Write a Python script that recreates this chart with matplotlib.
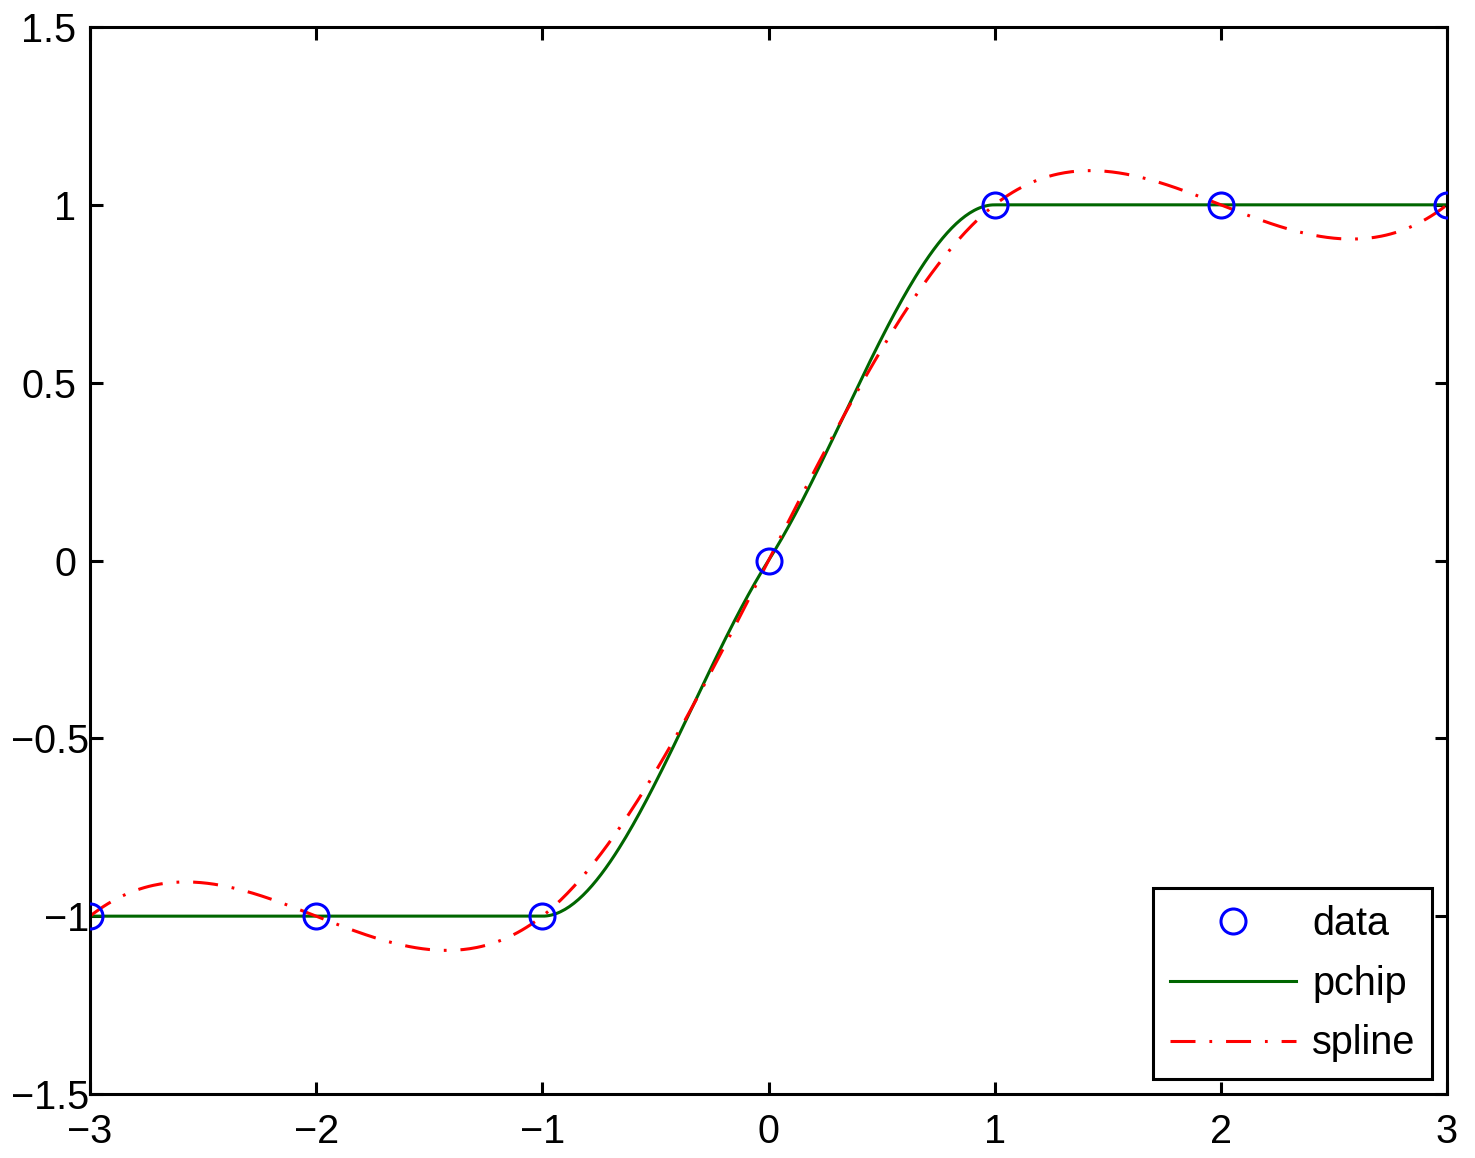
import numpy as np
import matplotlib
matplotlib.use("Agg")
import matplotlib.pyplot as plt
import matplotlib.transforms as mtransforms

plt.rcParams['font.family'] = ['Liberation Sans', 'DejaVu Sans']
plt.rcParams['lines.scale_dashes'] = False
plt.rcParams['axes.unicode_minus'] = True

# data
x_data = [-3, -2, -1, 0, 1, 2, 3]
y_data = [-1, -1, -1, 0, 1, 1, 1]
x_ticks = [-3, -2, -1, 0, 1, 2, 3]
y_ticks = [-1.5, -1, -0.5, 0, 0.5, 1, 1.5]
labels = ["data", "pchip", "spline"]


def pchip_slopes(x, y):
    h = np.diff(x)
    d = np.diff(y) / h
    n = len(x)
    s = np.zeros(n)
    for k in range(1, n - 1):
        if d[k - 1] * d[k] > 0:
            w1 = 2 * h[k] + h[k - 1]
            w2 = h[k] + 2 * h[k - 1]
            s[k] = (w1 + w2) / (w1 / d[k - 1] + w2 / d[k])

    def end(h0, h1, d0, d1):
        v = ((2 * h0 + h1) * d0 - h0 * d1) / (h0 + h1)
        if np.sign(v) != np.sign(d0):
            v = 0.0
        elif np.sign(d0) != np.sign(d1) and abs(v) > abs(3 * d0):
            v = 3 * d0
        return v
    s[0] = end(h[0], h[1], d[0], d[1])
    s[-1] = end(h[-1], h[-2], d[-1], d[-2])
    return s


def hermite_eval(x, y, s, t):
    idx = np.clip(np.searchsorted(x, t, side='right') - 1, 0, len(x) - 2)
    h = x[idx + 1] - x[idx]
    u = (t - x[idx]) / h
    h00 = 2 * u**3 - 3 * u**2 + 1
    h10 = u**3 - 2 * u**2 + u
    h01 = -2 * u**3 + 3 * u**2
    h11 = u**3 - u**2
    return h00 * y[idx] + h10 * h * s[idx] + h01 * y[idx + 1] + h11 * h * s[idx + 1]


def spline_nak_slopes(x, y):
    # not-a-knot cubic spline via second derivatives
    n = len(x)
    h = np.diff(x)
    d = np.diff(y) / h
    A = np.zeros((n, n))
    b = np.zeros(n)
    for i in range(1, n - 1):
        A[i, i - 1] = h[i - 1]
        A[i, i] = 2 * (h[i - 1] + h[i])
        A[i, i + 1] = h[i]
        b[i] = 6 * (d[i] - d[i - 1])
    A[0, 0] = h[1]; A[0, 1] = -(h[0] + h[1]); A[0, 2] = h[0]
    A[-1, -3] = h[-1]; A[-1, -2] = -(h[-2] + h[-1]); A[-1, -1] = h[-2]
    M = np.linalg.solve(A, b)
    s = np.zeros(n)
    for i in range(n - 1):
        s[i] = d[i] - h[i] * (2 * M[i] + M[i + 1]) / 6
    s[-1] = d[-1] + h[-1] * (M[-2] + 2 * M[-1]) / 6
    return s


xd = np.array(x_data, float)
yd = np.array(y_data, float)
t = np.linspace(xd[0], xd[-1], 601)
p = hermite_eval(xd, yd, pchip_slopes(xd, yd), t)
sp = hermite_eval(xd, yd, spline_nak_slopes(xd, yd), t)

fig = plt.figure(figsize=(14.75, 11.58), dpi=100)
ax = fig.add_axes([90 / 1475, 1 - 1094 / 1158, 1357 / 1475, 1067 / 1158])

ax.plot(xd, yd, 'o', color=(0, 0, 1), mfc='none', ms=18, mew=2.2, label=labels[0], zorder=3)
ax.plot(t, p, '-', color=(0, 0.4, 0), lw=2.2, label=labels[1])
ax.plot(t, sp, color=(1, 0, 0), lw=2.2, linestyle=(0, (18, 10, 2, 10)), label=labels[2])

ax.set_xlim(-3, 3)
ax.set_ylim(-1.5, 1.5)
ax.set_xticks(x_ticks)
ax.set_yticks(y_ticks)
ax.set_yticklabels([f"{v:g}".replace('-', '\u2212') for v in y_ticks])
ax.set_xticklabels([f"{v:g}".replace('-', '\u2212') for v in x_ticks])
ax.tick_params(direction='in', length=9, width=2.2, labelsize=28.5, top=True, right=True)
ax.tick_params(axis='x', pad=14)
ax.tick_params(axis='y', pad=10)
for sp_ in ax.spines.values():
    sp_.set_linewidth(2.2)

# negative y labels sit closer to the axis in the reference
shift = mtransforms.ScaledTranslation(9.5 / 72, 0, fig.dpi_scale_trans)
for tick, v in zip(ax.yaxis.get_major_ticks(), y_ticks):
    if v < 0:
        tick.label1.set_transform(tick.label1.get_transform() + shift)

leg = ax.legend(loc='lower right', bbox_to_anchor=(0.989, 0.014), borderaxespad=0,
                fancybox=False, edgecolor='black', fontsize=28.5, handlelength=3.2,
                labelspacing=0.55, handletextpad=0.4, borderpad=0.42, framealpha=1)
leg.get_frame().set_linewidth(2.2)

fig.savefig("out.png", dpi=100)
